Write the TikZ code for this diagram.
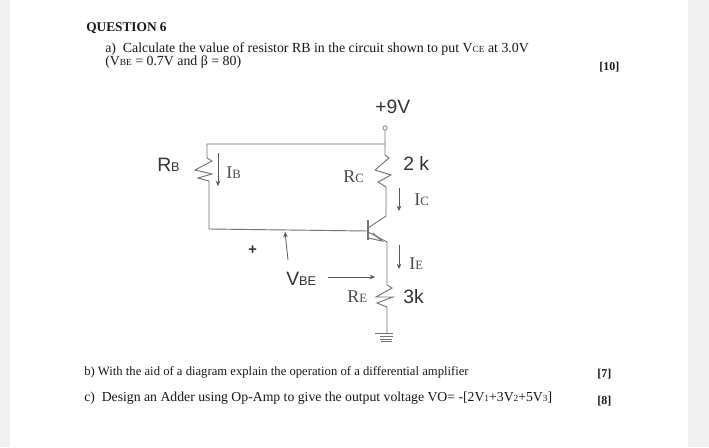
\documentclass[tikz,border=0pt]{standalone}
\usepackage{fontspec}
\setmainfont{Liberation Serif}
\newfontfamily\arialf{Liberation Sans}
\usetikzlibrary{arrows.meta}
\tikzset{
 px/.style={x=0.75pt,y=-0.75pt},
 wire/.style={draw=black!55,line width=0.7pt},
 txt/.style={inner sep=0pt,anchor=base west,text=black!90},
 bold/.style={txt,font=\bfseries\fontsize{10}{11}\selectfont},
 marks/.style={txt,font=\bfseries\fontsize{9}{10}\selectfont},
 body/.style={txt,font=\fontsize{10.4}{11}\selectfont},
 bodyb/.style={txt,font=\fontsize{9.5}{11}\selectfont},
 bodyc/.style={txt,font=\fontsize{10.3}{11}\selectfont},
 sans/.style={inner sep=0pt,anchor=base west,text=black!80,font=\arialf\fontsize{14.5}{16}\selectfont},
 serif/.style={inner sep=0pt,anchor=base west,text=black!70,font=\fontsize{13.5}{15}\selectfont},
 arr/.style={draw=black!65,line width=0.6pt,-{Stealth[length=4pt,width=3.5pt]}}
}
\newcommand{\sm}[1]{{\fontsize{7}{8}\selectfont #1}}
\newcommand{\smb}[1]{{\fontsize{9.5}{11}\selectfont #1}}
\begin{document}
\begin{tikzpicture}[px]
\useasboundingbox (0,0) rectangle (709,447);
\fill[white] (0,0) rectangle (709,447);
\fill[black!6] (688,0) rectangle (709,447);
\fill[black!6] (0,0) rectangle (10,447);
\node[bold] (q) at (86,31) {QUESTION 6};
\node[body] (a1) at (105,52) {a)\ \ Calculate the value of resistor RB in the circuit shown to put V\sm{CE} at 3.0V};
\node[body] (a2) at (105,65) {(V\sm{BE} = 0.7V and β = 80)};
\node[marks] (m1) at (599,70) {[10]};
\node[sans] (v9) at (375,113) {+9V};
% circuit
\coordinate (top) at (385,144);
\coordinate (tl) at (207,144);
\coordinate (bl) at (209,229);
\node[circle,draw=black!55,line width=0.5pt,inner sep=1.2pt] (vcc) at (385,128) {};
\draw[wire] (vcc) -- (top) -- (385,155) -- (389,158) -- (375,170) -- (391,175) -- (378,182) -- (386,187) -- (386,216) -- (368,228);
\draw[wire] (top) -- (tl) -- (207,158) -- (212,161) -- (195,170) -- (212,174) -- (198,178) -- (209,181) -- (bl) -- (368,231);
% transistor
\draw[wire,line width=0.9pt] (368,220) -- (368,240);
\draw[wire] (368,232) -- (387,242) -- (387,285) -- (392,288) -- (376,297) -- (393,297) -- (377,303) -- (387,307) -- (387,333);
\draw[wire] (373,233) -- (382,241) -- (368,238);
\draw[wire] (375,333) -- (393,333) (380,336) -- (393,336) (380,339) -- (392,339) (381,341) -- (392,341);
\draw[arr] (218,153) -- (218,186);
\draw[arr] (399,188) -- (399,211);
\draw[arr] (399,245) -- (399,269);
\draw[arr] (288,260) -- (285,232);
\draw[arr] (328,277) -- (375,277);
\node[serif] (ib) at (226,178) {I\smb{B}};
\node[serif] (ic) at (414,205) {I\smb{C}};
\node[serif] (ie) at (409,269) {I\smb{E}};
\node[serif] (rc) at (343,182) {R\smb{C}};
\node[serif] (re) at (347,302) {R\smb{E}};
\node[sans] (rb) at (157,171) {R\smb{B}};
\node[sans] (k2) at (403,170) {2 k};
\node[sans] (k3) at (403,303) {3k};
\node[sans] (vbe) at (286,285) {V\smb{BE}};
\node[sans,font=\arialf\bfseries\fontsize{11}{12}\selectfont] (pl) at (248,254) {+};
\node[bodyb] (b) at (84,375) {b) With the aid of a diagram explain the operation of a differential amplifier};
\node[marks] (m2) at (597,377) {[7]};
\node[bodyc] (c) at (84,401) {c)\ \ Design an Adder using Op-Amp to give the output voltage VO= -[2V\sm{1}+3V\sm{2}+5V\sm{3}]};
\node[marks] (m3) at (597,404) {[8]};
\end{tikzpicture}
\end{document}
